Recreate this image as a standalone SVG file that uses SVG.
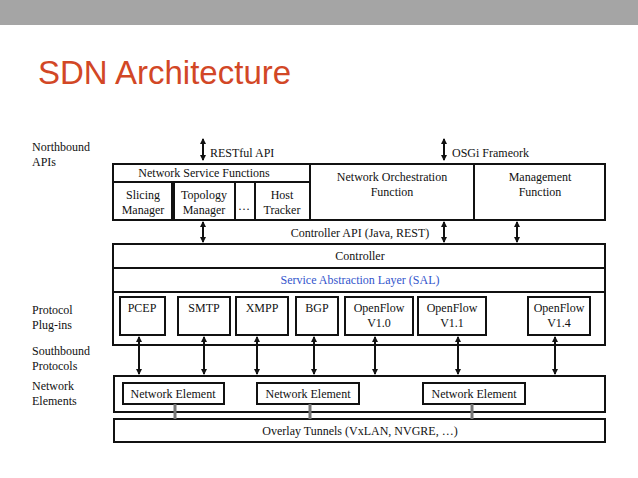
<svg xmlns="http://www.w3.org/2000/svg" width="638" height="478" viewBox="0 0 638 478">
<style>
.t{font-family:'Liberation Serif','Times New Roman','DejaVu Serif',serif;font-size:12px;fill:#111}
.c{text-anchor:middle}
.b{fill:#fff;stroke:#111;stroke-width:2}
.a{stroke:#111;stroke-width:2;marker-start:url(#h);marker-end:url(#h)}
</style>
<defs><marker id="h" viewBox="0 0 6 6" refX="5" refY="3" markerWidth="3" markerHeight="3" orient="auto-start-reverse"><path d="M0,0L6,3L0,6z" fill="#111"/></marker></defs>
<rect width="638" height="478" fill="#fff"/>
<rect width="638" height="25" fill="#a5a5a5"/>
<text x="38" y="84" font-family="Liberation Sans,sans-serif" font-size="33" fill="#d24726">SDN Architecture</text>
<g id="labels">
<text class="t" x="32" y="151">Northbound</text><text class="t" x="32" y="166">APIs</text>
<text class="t" x="32" y="314">Protocol</text><text class="t" x="32" y="329">Plug-ins</text>
<text class="t" x="32" y="355">Southbound</text><text class="t" x="32" y="370">Protocols</text>
<text class="t" x="32" y="390">Network</text><text class="t" x="32" y="405">Elements</text>
<text class="t" x="210" y="157">RESTful API</text>
<text class="t" x="452" y="157">OSGi Frameork</text>
<text class="t c" x="360" y="237">Controller API (Java, REST)</text>
</g>
<g id="nsf"><rect class="b" x="113" y="164" width="197" height="56"/><line x1="113" y1="182" x2="310" y2="182" stroke="#111" stroke-width="2"/><text class="t c" x="204" y="177">Network Service Functions</text></g>
<g id="slicing"><rect class="b" x="113" y="182" width="59" height="38"/><text class="t c" x="143" y="199">Slicing</text><text class="t c" x="143" y="214">Manager</text></g>
<g id="topology"><rect class="b" x="174" y="182" width="61" height="38"/><text class="t c" x="204" y="199">Topology</text><text class="t c" x="204" y="214">Manager</text></g>
<text class="t c" x="244" y="210">…</text>
<g id="host"><rect class="b" x="255" y="182" width="55" height="38"/><text class="t c" x="282" y="199">Host</text><text class="t c" x="282" y="214">Tracker</text></g>
<g id="orch"><rect class="b" x="310" y="164" width="164" height="56"/><text class="t c" x="392" y="181">Network Orchestration</text><text class="t c" x="392" y="196">Function</text></g>
<g id="mgmt"><rect class="b" x="474" y="164" width="131" height="56"/><text class="t c" x="540" y="181">Management</text><text class="t c" x="540" y="196">Function</text></g>
<g id="controller"><rect class="b" x="113" y="244" width="492" height="101"/><line x1="113" y1="268" x2="605" y2="268" stroke="#111" stroke-width="2"/><line x1="113" y1="292" x2="605" y2="292" stroke="#111" stroke-width="2"/><text class="t c" x="360" y="260">Controller</text><text class="t c" x="360" y="284" style="fill:#3355cc">Service Abstraction Layer (SAL)</text></g>
<g id="pcep"><rect class="b" x="120" y="297" width="45" height="38"/><text class="t c" x="142" y="312">PCEP</text></g>
<g id="smtp"><rect class="b" x="178" y="297" width="52" height="38"/><text class="t c" x="204" y="312">SMTP</text></g>
<g id="xmpp"><rect class="b" x="236" y="297" width="52" height="38"/><text class="t c" x="262" y="312">XMPP</text></g>
<g id="bgp"><rect class="b" x="296" y="297" width="42" height="38"/><text class="t c" x="317" y="312">BGP</text></g>
<g id="of10"><rect class="b" x="345" y="297" width="68" height="38"/><text class="t c" x="379" y="312">OpenFlow</text><text class="t c" x="379" y="327">V1.0</text></g>
<g id="of11"><rect class="b" x="418" y="297" width="68" height="38"/><text class="t c" x="452" y="312">OpenFlow</text><text class="t c" x="452" y="327">V1.1</text></g>
<g id="of14"><rect class="b" x="528" y="297" width="62" height="38"/><text class="t c" x="559" y="312">OpenFlow</text><text class="t c" x="559" y="327">V1.4</text></g>
<g id="ne"><rect class="b" x="114" y="376" width="491" height="36"/>
<rect class="b" x="123" y="383" width="101" height="21"/><text class="t c" x="173" y="398">Network Element</text>
<rect class="b" x="257" y="383" width="102" height="21"/><text class="t c" x="308" y="398">Network Element</text>
<rect class="b" x="423" y="383" width="102" height="21"/><text class="t c" x="474" y="398">Network Element</text></g>
<g id="overlay"><rect class="b" x="114" y="419" width="491" height="23"/><text class="t c" x="360" y="435">Overlay Tunnels (VxLAN, NVGRE, …)</text></g>
<g id="connectors">
<line class="a" x1="203" y1="139" x2="203" y2="160"/>
<line class="a" x1="444" y1="139" x2="444" y2="160"/>
<line class="a" x1="203" y1="222" x2="203" y2="242"/>
<line class="a" x1="444" y1="222" x2="444" y2="242"/>
<line class="a" x1="517" y1="222" x2="517" y2="242"/>
<line class="a" x1="139" y1="337" x2="139" y2="374"/>
<line class="a" x1="204" y1="337" x2="204" y2="374"/>
<line class="a" x1="257" y1="337" x2="257" y2="374"/>
<line class="a" x1="314" y1="337" x2="314" y2="374"/>
<line class="a" x1="375" y1="337" x2="375" y2="374"/>
<line class="a" x1="458" y1="337" x2="458" y2="374"/>
<line class="a" x1="555" y1="337" x2="555" y2="374"/>
<g stroke="#777" stroke-width="3"><line x1="175" y1="404" x2="175" y2="419"/><line x1="310" y1="404" x2="310" y2="419"/><line x1="472" y1="404" x2="472" y2="419"/></g>
</g>
</svg>
